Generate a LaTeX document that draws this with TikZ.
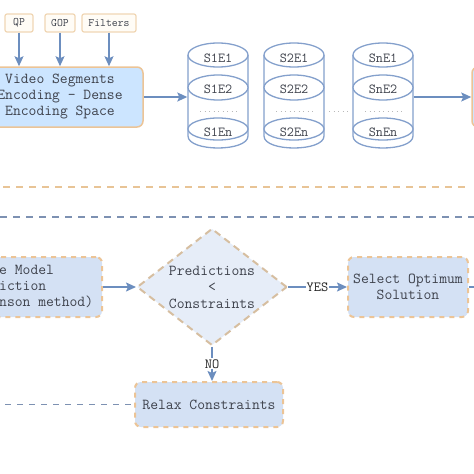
\documentclass[tikz,border=0pt]{standalone}
\usepackage{fontspec}
\usetikzlibrary{shapes.geometric, positioning, arrows.meta}
\definecolor{TanLine}{RGB}{236,196,150}
\definecolor{ParamTan}{RGB}{240,214,180}
\definecolor{ParamFill}{RGB}{255,252,246}
\definecolor{ArrBlue}{RGB}{108,142,191}
\definecolor{FillBlue}{RGB}{204,229,255}
\definecolor{BoxBlue}{RGB}{212,225,244}
\definecolor{DiaBlue}{RGB}{230,237,248}
\definecolor{DecTan}{RGB}{214,190,160}
\definecolor{SepTan}{RGB}{232,196,150}
\definecolor{SepBlue}{RGB}{125,145,178}
\definecolor{DbLine}{RGB}{132,160,204}
\definecolor{TextGray}{RGB}{62,66,76}

\tikzset{
  param/.style={draw=ParamTan, fill=ParamFill, line width=1.2pt, rounded corners=2pt,
                minimum height=18pt, inner sep=2pt, text=TextGray,
                font=\ttfamily\fontsize{11.4}{12}\selectfont},
  solidbox/.style={draw=TanLine, fill=FillBlue, line width=1.5pt, rounded corners=6pt,
                   align=center, text=TextGray,
                   font=\ttfamily\fontsize{15.2}{16}\selectfont},
  dashbox/.style={draw=TanLine, fill=BoxBlue, line width=2pt, dash pattern=on 5pt off 5pt,
                  rounded corners=6pt, align=center, text=TextGray,
                  font=\ttfamily\fontsize{15.2}{16}\selectfont},
  decision/.style={diamond, draw=DecTan, fill=DiaBlue, line width=2pt,
                   dash pattern=on 7pt off 5pt, aspect=1.28, inner sep=0pt,
                   align=center, text=TextGray,
                   font=\ttfamily\fontsize{15.2}{16.5}\selectfont},
  flow/.style={draw=ArrBlue, line width=1.5pt, -{Stealth[length=10pt,width=9pt,inset=2pt]}},
  answer/.style={fill=white, inner sep=1pt, text=black!85,
                 font=\ttfamily\fontsize{14}{14}\selectfont},
  sepline/.style={line width=2pt, dash pattern=on 7pt off 6pt},
  dbline/.style={draw=DbLine, line width=1.3pt, fill=white},
  dblab/.style={text=TextGray, font=\ttfamily\fontsize{13.8}{14}\selectfont},
  dotline/.style={draw=gray!55, line width=0.8pt, dash pattern=on 1pt off 3.5pt},
}

\begin{document}
\begin{tikzpicture}[x=1pt, y=-1pt]
  \useasboundingbox (0,0) rectangle (474,474);
  \clip (0,0) rectangle (474,474);

  % Encoding parameters
  \node[param, minimum width=28] (qp) at (19,23) {QP};
  \node[param, minimum width=30] (gop) at (60,23) {GOP};
  \node[param, minimum width=54] (filt) at (109,23) {Filters};

  % Encoding box (cut at the left border)
  \node[solidbox, minimum width=166, minimum height=60] (vse) at (60,97)
       {Video Segments\\Encoding - Dense\\Encoding Space};
  \draw[flow] (qp.south) -- (qp.south |- vse.north);
  \draw[flow] (gop.south) -- (gop.south |- vse.north);
  \draw[flow] (filt.south) -- (filt.south |- vse.north);

  % Stacks of encoded segments
  \foreach \cx/\sn in {218/1, 294/2, 383/n} {
    \node[minimum width=61, minimum height=105, inner sep=0pt] (db\sn) at (\cx,95.5) {};
    \draw[dbline] (\cx-30,55) -- (\cx-30,136)
      .. controls (\cx-30,152) and (\cx+30,152) .. (\cx+30,136) -- (\cx+30,55);
    \draw[dbline] (\cx,55) ellipse[x radius=30, y radius=12];
    \draw[dbline] (\cx,87.5) ellipse[x radius=30, y radius=12.5];
    \draw[dbline] (\cx,129) ellipse[x radius=30, y radius=11];
    \draw[dotline] (\cx-18,111) -- (\cx+20,111);
    \node[dblab] (s\sn-1) at (\cx,58) {S\sn E1};
    \node[dblab] (s\sn-2) at (\cx,89) {S\sn E2};
    \node[dblab] (s\sn-n) at (\cx,132) {S\sn En};
  }
  \draw[dotline] (329,111) -- (351,111);

  % Next stage (cut at the right border)
  \node[solidbox, minimum width=100, minimum height=60] (nxt) at (522,97) {};
  \draw[flow] (vse.east) -- (vse.east -| db1.west);
  \draw[flow] (vse.east -| dbn.east) -- (vse.east -| nxt.west);

  % Separators
  \draw[sepline, SepTan] (3,187) -- (471,187);
  \draw[sepline, SepBlue] (0,217) -- (474,217);

  % Optimisation loop
  \node[dashbox, minimum width=204, minimum height=60] (rsm) at (0,287) {};
  \node[anchor=west, align=left, inner sep=0pt, text=TextGray,
        font=\ttfamily\fontsize{15.2}{16}\selectfont] (rsmtxt) at (-1,286)
       {e Model\\iction\\nson method)};
  \node[decision, minimum width=150, minimum height=117] (dec) at (212,287)
       {Predictions\\<\\Constraints};
  \node[dashbox, minimum width=120, minimum height=60] (sel) at (408,287)
       {Select Optimum\\Solution};
  \node[dashbox, minimum width=148, minimum height=45] (relax) at (209,404.5)
       {Relax Constraints};
  \coordinate (selout) at (480,287);
  \coordinate (back) at (5,404.5);

  \draw[flow] (rsm.east) -- (dec.west);
  \draw[flow] (dec.east) -- node[answer] {YES} (sel.west);
  \draw[flow] (dec.south) -- node[answer] {NO} (dec.south |- relax.north);
  \draw[draw=ArrBlue, line width=1.5pt] (sel.east) -- (selout);
  \draw[SepBlue, line width=1.5pt, dash pattern=on 6pt off 6pt] (back) -- (relax.west);
\end{tikzpicture}
\end{document}
